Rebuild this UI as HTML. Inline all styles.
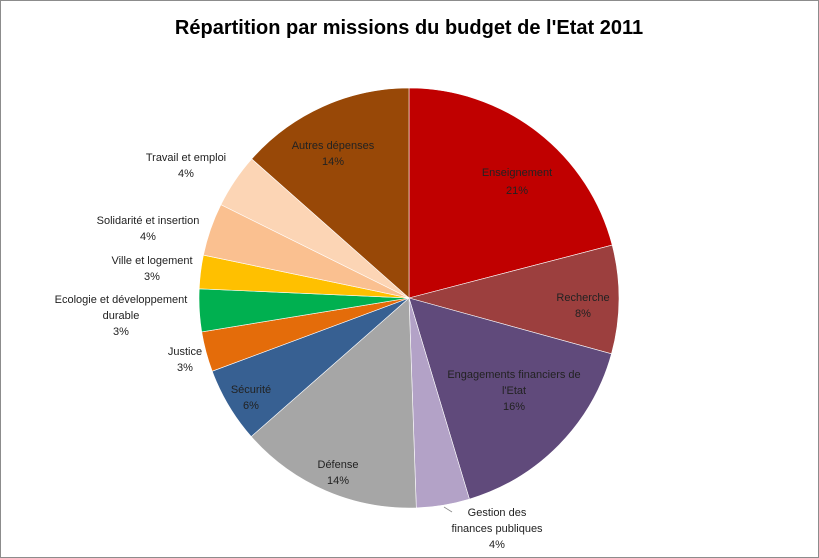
<!DOCTYPE html>
<html><head><meta charset="utf-8"><style>
body{margin:0;background:#fff}
svg{display:block}
text{font-family:"Liberation Sans",sans-serif;font-size:11px;fill:#222}
</style></head><body>
<svg width="819" height="558" viewBox="0 0 819 558">
<rect x="0.5" y="0.5" width="818" height="557" fill="#fff" stroke="#8c8c8c"/>
<text x="409" y="34" text-anchor="middle" style="font-size:20px;font-weight:bold;fill:#000">Répartition par missions du budget de l'Etat 2011</text>
<g stroke="#fff" stroke-width="0.6">
<path d="M409,298 L409,88 A210,210 0 0 1 612.2,245.1Z" fill="#c00000"/>
<path d="M409,298 L612.2,245.1 A210,210 0 0 1 611.5,353.8Z" fill="#9c3f3e"/>
<path d="M409,298 L611.5,353.8 A210,210 0 0 1 469.4,499.1Z" fill="#604a7b"/>
<path d="M409,298 L469.4,499.1 A210,210 0 0 1 416.3,507.9Z" fill="#b3a2c7"/>
<path d="M409,298 L416.3,507.9 A210,210 0 0 1 251.2,436.6Z" fill="#a6a6a6"/>
<path d="M409,298 L251.2,436.6 A210,210 0 0 1 212.2,371.2Z" fill="#376092"/>
<path d="M409,298 L212.2,371.2 A210,210 0 0 1 201.7,331.9Z" fill="#e46c0a"/>
<path d="M409,298 L201.7,331.9 A210,210 0 0 1 199.2,288.8Z" fill="#00b050"/>
<path d="M409,298 L199.2,288.8 A210,210 0 0 1 203.4,255.1Z" fill="#ffc000"/>
<path d="M409,298 L203.4,255.1 A210,210 0 0 1 220.9,204.6Z" fill="#fac090"/>
<path d="M409,298 L220.9,204.6 A210,210 0 0 1 251.7,158.9Z" fill="#fcd5b5"/>
<path d="M409,298 L251.7,158.9 A210,210 0 0 1 409,88Z" fill="#984807"/>
</g>
<g text-anchor="middle">
<text x="517" y="176">Enseignement</text><text x="517" y="194">21%</text>
<text x="583" y="301">Recherche</text><text x="583" y="317">8%</text>
<text x="514" y="378">Engagements financiers de</text><text x="514" y="394">l'Etat</text><text x="514" y="410">16%</text>
<text x="497" y="516">Gestion des</text><text x="497" y="532">finances publiques</text><text x="497" y="548">4%</text>
<text x="338" y="468">Défense</text><text x="338" y="484">14%</text>
<text x="251" y="393">Sécurité</text><text x="251" y="409">6%</text>
<text x="185" y="355">Justice</text><text x="185" y="371">3%</text>
<text x="121" y="303">Ecologie et développement</text><text x="121" y="319">durable</text><text x="121" y="335">3%</text>
<text x="152" y="264">Ville et logement</text><text x="152" y="280">3%</text>
<text x="148" y="224">Solidarité et insertion</text><text x="148" y="240">4%</text>
<text x="186" y="161">Travail et emploi</text><text x="186" y="177">4%</text>
<text x="333" y="149">Autres dépenses</text><text x="333" y="165">14%</text>
</g>
<line x1="444" y1="507" x2="452" y2="512" stroke="#888" stroke-width="0.8"/>
</svg>
</body></html>
